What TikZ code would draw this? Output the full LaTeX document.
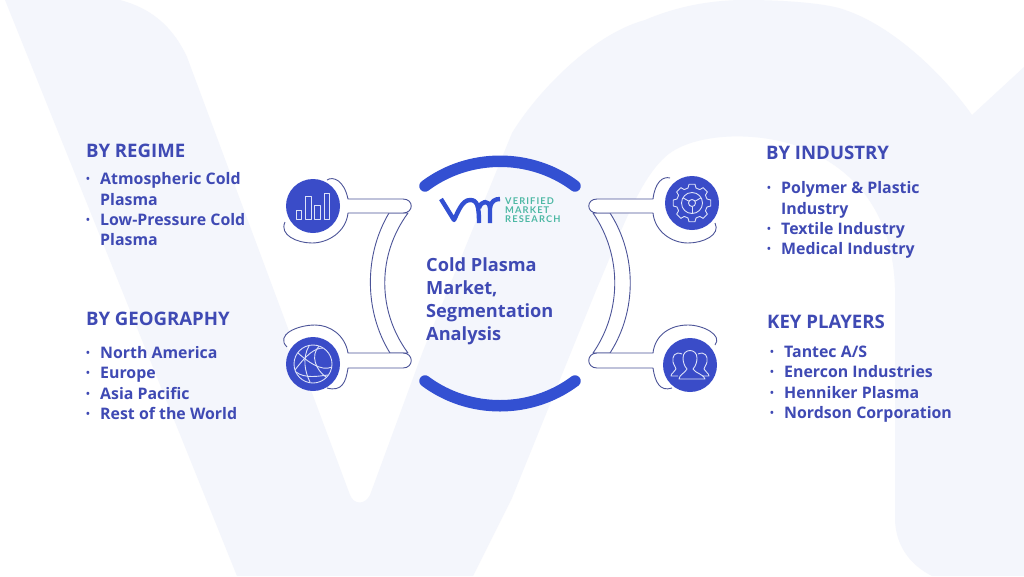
\documentclass[tikz,border=0pt]{standalone}
\usepackage{fontspec}
\setmainfont{Open Sans}
\newfontfamily\logofont[LetterSpace=12]{Lato}
\usetikzlibrary{positioning}

\definecolor{wash}{HTML}{F4F6FC}
\definecolor{inkblue}{HTML}{3F4AB4}
\definecolor{discblue}{HTML}{3A4CC8}
\definecolor{arcblue}{HTML}{3350D2}
\definecolor{rimblue}{HTML}{4C5498}
\definecolor{glyphline}{HTML}{DDE2F8}
\definecolor{logoteal}{HTML}{4DB8A4}

\tikzset{
  headingtext/.style={anchor=base west, inner sep=0pt, text=inkblue, font=\fontsize{18.6}{20}\bfseries\selectfont},
  listtext/.style={anchor=north west, inner sep=0pt, align=left, text=inkblue, font=\fontsize{15.9}{20.4}\bfseries\selectfont},
  centertext/.style={anchor=north west, inner sep=0pt, align=left, text=inkblue, font=\fontsize{18.2}{23}\bfseries\selectfont},
  logotext/.style={anchor=base west, inner sep=0pt, text=logoteal, font=\logofont\fontsize{9.3}{10}\bfseries\selectfont},
  iconcircle/.style={circle, fill=discblue, minimum size=54pt, inner sep=0pt},
  rimline/.style={draw=rimblue, fill=white, line width=0.9pt, line join=round},
  bigarc/.style={draw=arcblue, line width=11.5pt, line cap=round},
  glyph/.style={draw=glyphline, line width=0.9pt, line join=round},
  logostroke/.style={draw=arcblue, line width=4.4pt, line join=round}
}

\newcommand{\dotmark}{\makebox[14pt][l]{\raisebox{2pt}{\fontsize{10}{10}\selectfont •}}}
\newcommand{\dotgap}{\hspace*{14pt}}

\begin{document}
\begin{tikzpicture}[x=1pt,y=-1pt]
\useasboundingbox (0,0) rectangle (1024,576);
\fill[white] (0,0) rectangle (1024,576);

% watermark letters
\fill[wash] (5,0) -- (120,0) .. controls (150,8) and (172,25) .. (187,57) -- (350,495)
  .. controls (354,505) and (365,505) .. (370,495) -- (423,351) -- (512,133)
  .. controls (535,95) and (590,35) .. (645,20) .. controls (680,5) and (715,0) .. (745,0)
  .. controls (790,0) and (830,4) .. (845,10) .. controls (890,25) and (940,70) .. (972,115)
  -- (1024,67) -- (1024,576) -- (932,576) .. controls (910,565) and (895,545) .. (895,518)
  -- (895,288) .. controls (893,230) and (870,175) .. (800,147)
  .. controls (760,132) and (700,132) .. (670,153) .. controls (640,175) and (620,235) .. (597,288)
  -- (512,498) -- (473,576) -- (237,576) -- cycle;

% left brackets
\draw[rimline] (389,213) .. controls (364,255) and (364,311) .. (390,353) -- (408,353)
  .. controls (377,311) and (377,255) .. (408,213) -- cycle;
\draw[rimline] (327,180) .. controls (333,176) and (344,180) .. (348,199) -- (403,199)
  .. controls (414,199) and (414,213) .. (403,213) -- (348,213)
  .. controls (346,232) and (328,243) .. (312,243) .. controls (297,243) and (279,235) .. (285,222);
\draw[rimline] (287,347) .. controls (275,335) and (297,325) .. (315,325)
  .. controls (330,325) and (345,335) .. (348,353) -- (403,353)
  .. controls (414,353) and (414,368) .. (403,368) -- (348,368)
  .. controls (346,382) and (342,392) .. (327,388);

% right brackets
\draw[rimline] (593,213) .. controls (622,255) and (622,311) .. (593,353) -- (610,353)
  .. controls (637,311) and (637,255) .. (610,213) -- cycle;
\draw[rimline] (670,178) .. controls (663,176) and (655,182) .. (653,199) -- (597,199)
  .. controls (586,199) and (586,213) .. (597,213) -- (653,213)
  .. controls (655,232) and (672,243) .. (688,243) .. controls (703,243) and (721,235) .. (715,223);
\draw[rimline] (715,345) .. controls (723,335) and (703,325) .. (688,325)
  .. controls (670,325) and (655,335) .. (653,353) -- (597,353)
  .. controls (586,353) and (586,368) .. (597,368) -- (653,368)
  .. controls (655,382) and (660,392) .. (672,388);

% big arcs
\draw[bigarc] (425,186) .. controls (469,153) and (531,153) .. (575,186);
\draw[bigarc] (425,381) .. controls (469,414) and (531,414) .. (575,381);

% icon discs
\node[iconcircle] (chartdisc) at (313,206) {};
\node[iconcircle] (globedisc) at (313,364) {};
\node[iconcircle] (geardisc) at (692,203) {};
\node[iconcircle] (peopledisc) at (690,365) {};

% bars
\draw[glyph] (296,210) rectangle (301.5,219.5);
\draw[glyph] (305,196.5) rectangle (311,219.5);
\draw[glyph] (314.5,205) rectangle (320,219.5);
\draw[glyph] (324,193.5) rectangle (329.5,219.5);

% globe
\begin{scope}[shift={(globedisc.center)}]
\draw[glyph] (0,0) circle (19);
\draw[glyph] (-15,-11) .. controls (-6,-3) and (8,8) .. (19,3);
\draw[glyph] (-18,6) .. controls (-6,-10) and (2,-16) .. (10,-16);
\draw[glyph] (-17,8) .. controls (-8,15) and (6,12) .. (15,11);
\draw[glyph] (-4,-18) .. controls (-11,-6) and (-8,8) .. (-3,18);
\draw[glyph] (6,-18) .. controls (-3,-8) and (3,6) .. (13,13);
\end{scope}

% gear
\begin{scope}[shift={(geardisc.center)}]
\draw[glyph] (-9:19) \foreach \a in {0,45,...,315} {
  -- (\a-9:19) -- (\a+9:19) -- (\a+15:15.5) -- (\a+30:15.5) } -- cycle;
\draw[glyph] (0,0) circle (10.5);
\draw[glyph] (0,0) circle (3.5);
\foreach \a in {90,210,330} \draw[glyph] (\a:3.5) -- (\a:10.5);
\end{scope}

% people
\draw[glyph] (679,379) .. controls (679,375) and (685,373) .. (687,369)
  .. controls (684,366) and (683,361) .. (683,358) .. controls (683,348) and (697,348) .. (697,358)
  .. controls (697,361) and (696,366) .. (693,369) .. controls (695,373) and (705,375) .. (705,379) -- cycle;
\draw[glyph] (682,354) .. controls (675,351) and (672,356) .. (673,362)
  .. controls (674,366) and (676,367) .. (676,369) .. controls (675,372) and (671,373) .. (671,376) -- (678,376);
\draw[glyph] (698,354) .. controls (705,351) and (708,356) .. (707,362)
  .. controls (706,366) and (704,367) .. (704,369) .. controls (705,372) and (709,373) .. (709,376) -- (702,376);

% logo mark
\draw[logostroke] (441,199) -- (454,220) .. controls (458,212) and (462,200) .. (470,200)
  .. controls (477,200) and (479,205) .. (479,223);
\draw[logostroke] (479,208) .. controls (481,201) and (489,199) .. (490,208) -- (490,223);
\draw[logostroke] (490,208) .. controls (491,201) and (495,199) .. (500,199);
\node[logotext] (logoverified) at (505,204) {VERIFIED};
\node[logotext] (logomarket) at (505,213.5) {MARKET};
\node[logotext] (logoresearch) at (505,222.5) {RESEARCH};

% center title
\node[centertext] (marketname) at (426,257.5) {Cold Plasma\\Market,\\Segmentation\\Analysis};

% left side lists
\node[headingtext] (regimehead) at (86,157) {BY REGIME};
\node[listtext] (regimelist) at (86,172.5) {\dotmark Atmospheric Cold\\\dotgap Plasma\\\dotmark Low-Pressure Cold\\\dotgap Plasma};
\node[headingtext] (geohead) at (86,325) {BY GEOGRAPHY};
\node[listtext] (geolist) at (86,346) {\dotmark North America\\\dotmark Europe\\\dotmark Asia Pacific\\\dotmark Rest of the World};

% right side lists
\node[headingtext] (industryhead) at (766,159) {BY INDUSTRY};
\node[listtext] (industrylist) at (767,181.5) {\dotmark Polymer \& Plastic\\\dotgap Industry\\\dotmark Textile Industry\\\dotmark Medical Industry};
\node[headingtext] (playershead) at (767,328) {KEY PLAYERS};
\node[listtext] (playerslist) at (770,345.5) {\dotmark Tantec A/S\\\dotmark Enercon Industries\\\dotmark Henniker Plasma\\\dotmark Nordson Corporation};
\end{tikzpicture}
\end{document}
